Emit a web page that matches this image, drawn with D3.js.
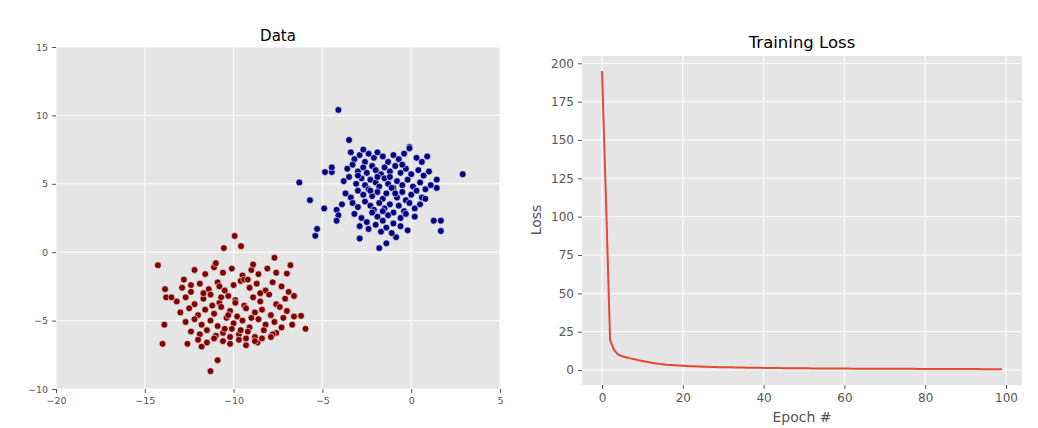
<!DOCTYPE html>
<html><head><meta charset="utf-8">
<script src="https://cdn.jsdelivr.net/npm/d3@7"></script>
<style>body{margin:0;background:#fff;font-family:"DejaVu Sans",sans-serif}</style>
</head><body><svg id="c" width="1038" height="428"></svg>
<script>
const blueX=[-4.1,-3.5,-6.3,2.9,-5.7,-5.3,-5.4,-2.9,-1.8,-1.4,-0.85,1.67,1.27,1.67,1.44,1.44,-0.1,-4.85,-4.47,-4.47,-4.9,-4.2,-4.1,-4.2,
-3.4,-3.2,-2.9,-2.6,-2.4,-2.1,-1.9,-1.6,-1.3,-1.0,-0.7,-0.4,-0.1,0.3,0.6,0.9,
-3.6,-3.3,-3.0,-2.7,-2.5,-2.2,-2.0,-1.7,-1.5,-1.2,-0.9,-0.6,-0.3,0.0,0.4,0.7,1.0,
-3.8,-3.5,-3.1,-2.8,-2.6,-2.3,-2.0,-1.8,-1.5,-1.3,-1.0,-0.8,-0.5,-0.2,0.1,0.5,0.8,1.1,
-3.7,-3.4,-3.0,-2.7,-2.4,-2.2,-1.9,-1.6,-1.4,-1.1,-0.8,-0.5,-0.3,0.0,0.3,0.6,
-3.3,-3.0,-2.6,-2.3,-2.1,-1.8,-1.5,-1.2,-1.0,-0.7,-0.4,-0.1,0.2,0.5,
-3.2,-2.8,-2.5,-2.2,-1.9,-1.6,-1.3,-1.0,-0.6,-0.3,0.2,
-2.9,-2.4,-2.0,-1.7,-1.4,-1.1,-0.6,-0.2,-1.9,-2.3,-1.2,-0.9,-3.9,-3.0,-1.6,-0.5,0.8,-2.7];
const blueY=[10.4,8.2,5.1,5.7,3.8,1.7,1.2,1.0,0.3,0.65,1.1,1.55,2.3,2.3,5.3,4.7,7.7,5.86,5.86,6.2,3.2,3.1,2.7,2.3,
7.3,6.8,7.1,6.6,7.2,6.9,7.3,7.0,6.6,7.1,6.8,7.2,7.6,6.9,6.6,7.0,
6.1,6.4,5.9,6.2,5.8,6.3,6.0,5.7,6.2,5.9,6.3,5.8,6.1,5.7,6.0,5.6,5.9,
5.2,5.5,5.0,5.4,4.9,5.3,5.1,4.8,5.4,5.0,4.7,5.2,4.9,5.3,4.8,5.1,4.6,4.9,
4.3,4.0,4.5,4.2,4.6,4.1,4.4,3.9,4.3,4.7,4.0,4.4,3.8,4.2,4.5,4.0,
3.6,3.3,3.7,3.4,3.1,3.6,3.2,3.5,2.9,3.4,3.0,3.6,3.2,3.5,
2.8,2.5,2.2,2.9,2.6,2.3,2.7,2.1,2.5,2.8,2.6,
1.9,1.7,2.0,1.5,1.8,1.4,1.9,1.6,5.5,4.5,5.5,4.3,3.5,5.6,3.0,6.4,3.9,7.5];
const redX=[-9.94,-10.55,-9.58,-14.26,-7.7,-6.8,-5.95,-6.2,-14.0,-11.3,-10.9,-13.9,-13.86,-13.8,-13.5,-12.6,-11.8,-10.2,-9.3,-8.65,-7.6,-6.7,-7.0,
-12.2,-11.6,-11.1,-10.6,-10.1,-9.5,-9.0,-8.6,-8.1,-7.6,-12.8,-12.4,
-12.9,-12.4,-11.9,-11.4,-10.9,-10.5,-10.0,-9.6,-9.1,-8.7,-8.2,-7.8,-7.3,-6.9,
-13.2,-12.7,-12.2,-11.7,-11.3,-10.8,-10.3,-9.9,-9.4,-8.9,-8.5,-8.0,-7.6,-7.1,-6.6,
-13.0,-12.5,-12.0,-11.6,-11.1,-10.7,-10.2,-9.8,-9.3,-8.8,-8.4,-7.9,-7.4,-7.0,
-12.7,-12.2,-11.8,-11.3,-10.9,-10.4,-10.0,-9.5,-9.1,-8.6,-8.2,-7.7,-7.2,-6.6,
-12.4,-11.9,-11.5,-11.0,-10.6,-10.1,-9.7,-9.2,-8.8,-8.3,-7.8,-7.3,
-12.0,-11.5,-11.1,-10.6,-10.2,-9.7,-9.3,-8.8,-8.4,-7.9,
-11.7,-11.2,-10.8,-10.3,-9.9,-9.4,-9.0,-8.5,-10.5,-9.6,-11.0,-8.9,-10.7,-9.2];
const redY=[1.19,0.3,0.44,-0.95,-0.4,-0.95,-5.6,-4.65,-6.7,-8.7,-7.9,-5.3,-2.7,-3.3,-3.3,-6.7,-6.9,-6.7,-6.8,-6.6,-5.9,-5.3,-1.56,
-1.3,-1.6,-1.1,-1.5,-1.2,-1.7,-1.3,-1.6,-1.2,-1.5,-2.0,-2.4,
-2.6,-2.9,-2.3,-2.7,-2.2,-2.8,-2.4,-2.1,-2.6,-2.3,-2.8,-2.2,-2.5,-2.9,
-3.6,-3.3,-3.8,-3.4,-3.1,-3.7,-3.2,-3.5,-3.9,-3.3,-3.6,-3.1,-3.8,-3.4,-3.2,
-4.4,-4.1,-4.6,-4.2,-4.5,-4.0,-4.3,-4.7,-4.1,-4.4,-4.2,-4.6,-4.0,-4.3,
-5.1,-4.9,-5.3,-5.0,-5.4,-4.8,-5.2,-5.0,-5.5,-4.9,-5.3,-5.1,-4.8,-4.7,
-5.8,-6.0,-5.7,-6.1,-5.9,-5.6,-6.0,-5.8,-6.2,-5.7,-6.0,-5.5,
-6.4,-6.6,-6.3,-6.5,-6.2,-6.4,-6.3,-6.5,-6.3,-6.2,
-3.0,-3.9,-2.5,-4.6,-3.7,-2.0,-4.8,-3.0,-5.6,-5.7,-0.8,-0.9,-3.3,-2.0];
const epochs=d3.range(100);
const loss=[195,110,19.5,13,10,9,8.3,7.6,7.0,6.4,5.9,5.4,4.9,4.5,4.1,3.8,3.5,3.3,3.1,2.9,2.75,2.6,2.5,2.4,2.3,2.2,2.1,2.0,1.95,1.9,
1.85,1.8,1.75,1.7,1.65,1.6,1.55,1.5,1.46,1.42,1.38,1.35,1.32,1.29,1.26,1.23,1.2,1.18,1.16,1.14,1.12,1.1,1.08,1.06,1.04,1.02,1.0,0.98,0.96,0.95,
0.94,0.93,0.92,0.91,0.9,0.89,0.88,0.87,0.86,0.85,0.84,0.83,0.82,0.81,0.8,0.79,0.78,0.77,0.76,0.75,0.74,0.73,0.72,0.71,0.7,0.69,0.68,0.67,0.66,0.65,
0.64,0.63,0.62,0.61,0.6,0.6,0.59,0.58,0.57,0.56];
const scatterXTicks=[-20,-15,-10,-5,0,5], scatterYTicks=[-10,-5,0,5,10,15];
const lossXTicks=[0,20,40,60,80,100], lossYTicks=[0,25,50,75,100,125,150,175,200];

const svg=d3.select("#c");
function panel(x0,x1,y0,y1,xd,yd,xt,yt,fs,title,tfs,ty){
  const g=svg.append("g");
  const x=d3.scaleLinear().domain(xd).range([x0,x1]), y=d3.scaleLinear().domain(yd).range([y1,y0]);
  g.append("rect").attr("x",x0).attr("y",y0).attr("width",x1-x0).attr("height",y1-y0).attr("fill","#e5e5e5");
  xt.forEach(t=>g.append("line").attr("x1",x(t)).attr("x2",x(t)).attr("y1",y0).attr("y2",y1).attr("stroke","#fff").attr("stroke-width",1));
  yt.forEach(t=>g.append("line").attr("y1",y(t)).attr("y2",y(t)).attr("x1",x0).attr("x2",x1).attr("stroke","#fff").attr("stroke-width",1));
  const xa=g.append("g").attr("transform",`translate(0,${y1})`).call(d3.axisBottom(x).tickValues(xt).tickSize(4).tickPadding(4).tickFormat(d=>d<0?"\u2212"+(-d):d));
  const ya=g.append("g").attr("transform",`translate(${x0},0)`).call(d3.axisLeft(y).tickValues(yt).tickSize(4).tickPadding(4).tickFormat(d=>d<0?"\u2212"+(-d):d));
  [xa,ya].forEach(a=>{a.select(".domain").remove();a.selectAll("line").attr("stroke","#555");a.selectAll("text").attr("fill","#555").style("font-size",fs+"px").style("font-family","DejaVu Sans");});
  g.append("text").attr("x",(x0+x1)/2).attr("y",ty).attr("text-anchor","middle").style("font-size",tfs+"px").text(title);
  return {x,y};
}
const L=panel(56,500,47,389,[-20,5],[-10,15],scatterXTicks,scatterYTicks,9.5,"Data",15,41);
function dots(xs,ys,c){svg.append("g").selectAll("circle").data(xs.map((v,i)=>[v,ys[i]])).join("circle")
  .attr("cx",d=>L.x(d[0])).attr("cy",d=>L.y(d[1])).attr("r",3.4).attr("fill",c).attr("stroke","#fff").attr("stroke-width",0.6);}
dots(redX,redY,"#800000");dots(blueX,blueY,"#000080");

const R=panel(582,1022,56,385,[-4.95,103.95],[-9.75,204.75],lossXTicks,lossYTicks,12,"Training Loss",16.5,48);
svg.append("path").datum(epochs.map((e,i)=>[e,loss[i]])).attr("fill","none").attr("stroke","#e24a33").attr("stroke-width",2)
  .attr("d",d3.line().x(d=>R.x(d[0])).y(d=>R.y(d[1])));
svg.append("text").attr("x",802).attr("y",422).attr("text-anchor","middle").attr("fill","#555").style("font-size","14px").text("Epoch #");
svg.append("text").attr("transform","translate(541,220) rotate(-90)").attr("text-anchor","middle").attr("fill","#555").style("font-size","14px").text("Loss");
</script></body></html>
